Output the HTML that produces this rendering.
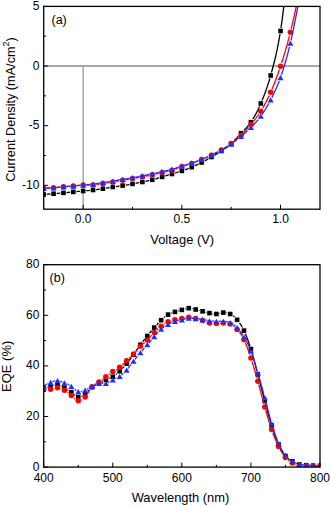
<!DOCTYPE html>
<html><head><meta charset="utf-8"><style>
html,body{margin:0;padding:0;background:#fff;width:331px;height:506px;overflow:hidden}
svg{display:block;font-family:"Liberation Sans",sans-serif}
</style></head><body>
<svg width="331" height="506" viewBox="0 0 331 506">
<defs><clipPath id="ca"><rect x="43.7" y="6.4" width="276.3" height="202.79999999999998"/></clipPath><clipPath id="cb"><rect x="43.7" y="264.7" width="276.3" height="202.40000000000003"/></clipPath></defs>
<defs><mask id="m0" maskUnits="userSpaceOnUse" x="0" y="0" width="331" height="506"><rect x="0" y="0" width="331" height="506" fill="#fff"/><rect x="41.40" y="192.20" width="4.6" height="4.6" fill="#000" stroke="#000" stroke-width="1.6" stroke-linejoin="round"/><rect x="51.27" y="191.40" width="4.6" height="4.6" fill="#000" stroke="#000" stroke-width="1.6" stroke-linejoin="round"/><rect x="61.14" y="190.60" width="4.6" height="4.6" fill="#000" stroke="#000" stroke-width="1.6" stroke-linejoin="round"/><rect x="71.00" y="189.60" width="4.6" height="4.6" fill="#000" stroke="#000" stroke-width="1.6" stroke-linejoin="round"/><rect x="80.87" y="188.70" width="4.6" height="4.6" fill="#000" stroke="#000" stroke-width="1.6" stroke-linejoin="round"/><rect x="90.74" y="187.70" width="4.6" height="4.6" fill="#000" stroke="#000" stroke-width="1.6" stroke-linejoin="round"/><rect x="100.61" y="186.40" width="4.6" height="4.6" fill="#000" stroke="#000" stroke-width="1.6" stroke-linejoin="round"/><rect x="110.48" y="184.70" width="4.6" height="4.6" fill="#000" stroke="#000" stroke-width="1.6" stroke-linejoin="round"/><rect x="120.34" y="183.30" width="4.6" height="4.6" fill="#000" stroke="#000" stroke-width="1.6" stroke-linejoin="round"/><rect x="130.21" y="181.60" width="4.6" height="4.6" fill="#000" stroke="#000" stroke-width="1.6" stroke-linejoin="round"/><rect x="140.08" y="179.70" width="4.6" height="4.6" fill="#000" stroke="#000" stroke-width="1.6" stroke-linejoin="round"/><rect x="149.95" y="177.50" width="4.6" height="4.6" fill="#000" stroke="#000" stroke-width="1.6" stroke-linejoin="round"/><rect x="159.81" y="174.60" width="4.6" height="4.6" fill="#000" stroke="#000" stroke-width="1.6" stroke-linejoin="round"/><rect x="169.68" y="171.70" width="4.6" height="4.6" fill="#000" stroke="#000" stroke-width="1.6" stroke-linejoin="round"/><rect x="179.55" y="168.60" width="4.6" height="4.6" fill="#000" stroke="#000" stroke-width="1.6" stroke-linejoin="round"/><rect x="189.42" y="164.90" width="4.6" height="4.6" fill="#000" stroke="#000" stroke-width="1.6" stroke-linejoin="round"/><rect x="199.29" y="160.20" width="4.6" height="4.6" fill="#000" stroke="#000" stroke-width="1.6" stroke-linejoin="round"/><rect x="209.15" y="154.70" width="4.6" height="4.6" fill="#000" stroke="#000" stroke-width="1.6" stroke-linejoin="round"/><rect x="219.02" y="148.70" width="4.6" height="4.6" fill="#000" stroke="#000" stroke-width="1.6" stroke-linejoin="round"/><rect x="228.89" y="141.40" width="4.6" height="4.6" fill="#000" stroke="#000" stroke-width="1.6" stroke-linejoin="round"/><rect x="238.76" y="130.90" width="4.6" height="4.6" fill="#000" stroke="#000" stroke-width="1.6" stroke-linejoin="round"/><rect x="248.63" y="119.90" width="4.6" height="4.6" fill="#000" stroke="#000" stroke-width="1.6" stroke-linejoin="round"/><rect x="258.49" y="101.20" width="4.6" height="4.6" fill="#000" stroke="#000" stroke-width="1.6" stroke-linejoin="round"/><rect x="268.36" y="73.20" width="4.6" height="4.6" fill="#000" stroke="#000" stroke-width="1.6" stroke-linejoin="round"/><rect x="278.23" y="28.70" width="4.6" height="4.6" fill="#000" stroke="#000" stroke-width="1.6" stroke-linejoin="round"/></mask><mask id="m1" maskUnits="userSpaceOnUse" x="0" y="0" width="331" height="506"><rect x="0" y="0" width="331" height="506" fill="#fff"/><circle cx="43.70" cy="188.20" r="2.75" fill="#000" stroke="#000" stroke-width="1.6" stroke-linejoin="round"/><circle cx="53.57" cy="187.70" r="2.75" fill="#000" stroke="#000" stroke-width="1.6" stroke-linejoin="round"/><circle cx="63.44" cy="186.80" r="2.75" fill="#000" stroke="#000" stroke-width="1.6" stroke-linejoin="round"/><circle cx="73.30" cy="185.90" r="2.75" fill="#000" stroke="#000" stroke-width="1.6" stroke-linejoin="round"/><circle cx="83.17" cy="185.00" r="2.75" fill="#000" stroke="#000" stroke-width="1.6" stroke-linejoin="round"/><circle cx="93.04" cy="185.00" r="2.75" fill="#000" stroke="#000" stroke-width="1.6" stroke-linejoin="round"/><circle cx="102.91" cy="183.60" r="2.75" fill="#000" stroke="#000" stroke-width="1.6" stroke-linejoin="round"/><circle cx="112.78" cy="182.00" r="2.75" fill="#000" stroke="#000" stroke-width="1.6" stroke-linejoin="round"/><circle cx="122.64" cy="180.30" r="2.75" fill="#000" stroke="#000" stroke-width="1.6" stroke-linejoin="round"/><circle cx="132.51" cy="178.60" r="2.75" fill="#000" stroke="#000" stroke-width="1.6" stroke-linejoin="round"/><circle cx="142.38" cy="176.80" r="2.75" fill="#000" stroke="#000" stroke-width="1.6" stroke-linejoin="round"/><circle cx="152.25" cy="174.80" r="2.75" fill="#000" stroke="#000" stroke-width="1.6" stroke-linejoin="round"/><circle cx="162.11" cy="172.60" r="2.75" fill="#000" stroke="#000" stroke-width="1.6" stroke-linejoin="round"/><circle cx="171.98" cy="170.20" r="2.75" fill="#000" stroke="#000" stroke-width="1.6" stroke-linejoin="round"/><circle cx="181.85" cy="166.50" r="2.75" fill="#000" stroke="#000" stroke-width="1.6" stroke-linejoin="round"/><circle cx="191.72" cy="163.40" r="2.75" fill="#000" stroke="#000" stroke-width="1.6" stroke-linejoin="round"/><circle cx="201.59" cy="159.60" r="2.75" fill="#000" stroke="#000" stroke-width="1.6" stroke-linejoin="round"/><circle cx="211.45" cy="155.20" r="2.75" fill="#000" stroke="#000" stroke-width="1.6" stroke-linejoin="round"/><circle cx="221.32" cy="150.00" r="2.75" fill="#000" stroke="#000" stroke-width="1.6" stroke-linejoin="round"/><circle cx="231.19" cy="143.60" r="2.75" fill="#000" stroke="#000" stroke-width="1.6" stroke-linejoin="round"/><circle cx="241.06" cy="135.30" r="2.75" fill="#000" stroke="#000" stroke-width="1.6" stroke-linejoin="round"/><circle cx="250.93" cy="124.40" r="2.75" fill="#000" stroke="#000" stroke-width="1.6" stroke-linejoin="round"/><circle cx="260.79" cy="111.30" r="2.75" fill="#000" stroke="#000" stroke-width="1.6" stroke-linejoin="round"/><circle cx="270.66" cy="92.30" r="2.75" fill="#000" stroke="#000" stroke-width="1.6" stroke-linejoin="round"/><circle cx="280.53" cy="66.30" r="2.75" fill="#000" stroke="#000" stroke-width="1.6" stroke-linejoin="round"/><circle cx="290.40" cy="32.20" r="2.75" fill="#000" stroke="#000" stroke-width="1.6" stroke-linejoin="round"/></mask><mask id="m2" maskUnits="userSpaceOnUse" x="0" y="0" width="331" height="506"><rect x="0" y="0" width="331" height="506" fill="#fff"/><polygon points="43.70,185.66 40.65,190.94 46.75,190.94" fill="#000" stroke="#000" stroke-width="1.6" stroke-linejoin="round"/><polygon points="53.57,185.16 50.52,190.44 56.62,190.44" fill="#000" stroke="#000" stroke-width="1.6" stroke-linejoin="round"/><polygon points="63.44,184.26 60.39,189.54 66.49,189.54" fill="#000" stroke="#000" stroke-width="1.6" stroke-linejoin="round"/><polygon points="73.30,183.36 70.25,188.64 76.35,188.64" fill="#000" stroke="#000" stroke-width="1.6" stroke-linejoin="round"/><polygon points="83.17,182.46 80.12,187.74 86.22,187.74" fill="#000" stroke="#000" stroke-width="1.6" stroke-linejoin="round"/><polygon points="93.04,181.46 89.99,186.74 96.09,186.74" fill="#000" stroke="#000" stroke-width="1.6" stroke-linejoin="round"/><polygon points="102.91,180.06 99.86,185.34 105.96,185.34" fill="#000" stroke="#000" stroke-width="1.6" stroke-linejoin="round"/><polygon points="112.78,178.46 109.73,183.74 115.83,183.74" fill="#000" stroke="#000" stroke-width="1.6" stroke-linejoin="round"/><polygon points="122.64,176.76 119.59,182.04 125.69,182.04" fill="#000" stroke="#000" stroke-width="1.6" stroke-linejoin="round"/><polygon points="132.51,175.06 129.46,180.34 135.56,180.34" fill="#000" stroke="#000" stroke-width="1.6" stroke-linejoin="round"/><polygon points="142.38,173.26 139.33,178.54 145.43,178.54" fill="#000" stroke="#000" stroke-width="1.6" stroke-linejoin="round"/><polygon points="152.25,171.26 149.20,176.54 155.30,176.54" fill="#000" stroke="#000" stroke-width="1.6" stroke-linejoin="round"/><polygon points="162.11,169.06 159.06,174.34 165.16,174.34" fill="#000" stroke="#000" stroke-width="1.6" stroke-linejoin="round"/><polygon points="171.98,166.66 168.93,171.94 175.03,171.94" fill="#000" stroke="#000" stroke-width="1.6" stroke-linejoin="round"/><polygon points="181.85,163.46 178.80,168.74 184.90,168.74" fill="#000" stroke="#000" stroke-width="1.6" stroke-linejoin="round"/><polygon points="191.72,160.36 188.67,165.64 194.77,165.64" fill="#000" stroke="#000" stroke-width="1.6" stroke-linejoin="round"/><polygon points="201.59,156.76 198.54,162.04 204.64,162.04" fill="#000" stroke="#000" stroke-width="1.6" stroke-linejoin="round"/><polygon points="211.45,152.36 208.40,157.64 214.50,157.64" fill="#000" stroke="#000" stroke-width="1.6" stroke-linejoin="round"/><polygon points="221.32,147.36 218.27,152.64 224.37,152.64" fill="#000" stroke="#000" stroke-width="1.6" stroke-linejoin="round"/><polygon points="231.19,141.36 228.14,146.64 234.24,146.64" fill="#000" stroke="#000" stroke-width="1.6" stroke-linejoin="round"/><polygon points="241.06,133.66 238.01,138.94 244.11,138.94" fill="#000" stroke="#000" stroke-width="1.6" stroke-linejoin="round"/><polygon points="250.93,124.76 247.88,130.04 253.98,130.04" fill="#000" stroke="#000" stroke-width="1.6" stroke-linejoin="round"/><polygon points="260.79,113.56 257.74,118.84 263.84,118.84" fill="#000" stroke="#000" stroke-width="1.6" stroke-linejoin="round"/><polygon points="270.66,97.26 267.61,102.54 273.71,102.54" fill="#000" stroke="#000" stroke-width="1.6" stroke-linejoin="round"/><polygon points="280.53,74.86 277.48,80.14 283.58,80.14" fill="#000" stroke="#000" stroke-width="1.6" stroke-linejoin="round"/><polygon points="290.40,40.56 287.35,45.84 293.45,45.84" fill="#000" stroke="#000" stroke-width="1.6" stroke-linejoin="round"/></mask><mask id="m3" maskUnits="userSpaceOnUse" x="0" y="0" width="331" height="506"><rect x="0" y="0" width="331" height="506" fill="#fff"/><rect x="41.40" y="385.20" width="4.6" height="4.6" fill="#000" stroke="#000" stroke-width="1.6" stroke-linejoin="round"/><rect x="48.31" y="384.30" width="4.6" height="4.6" fill="#000" stroke="#000" stroke-width="1.6" stroke-linejoin="round"/><rect x="55.22" y="382.40" width="4.6" height="4.6" fill="#000" stroke="#000" stroke-width="1.6" stroke-linejoin="round"/><rect x="62.12" y="385.50" width="4.6" height="4.6" fill="#000" stroke="#000" stroke-width="1.6" stroke-linejoin="round"/><rect x="69.03" y="389.90" width="4.6" height="4.6" fill="#000" stroke="#000" stroke-width="1.6" stroke-linejoin="round"/><rect x="75.94" y="394.70" width="4.6" height="4.6" fill="#000" stroke="#000" stroke-width="1.6" stroke-linejoin="round"/><rect x="82.85" y="391.70" width="4.6" height="4.6" fill="#000" stroke="#000" stroke-width="1.6" stroke-linejoin="round"/><rect x="89.75" y="384.90" width="4.6" height="4.6" fill="#000" stroke="#000" stroke-width="1.6" stroke-linejoin="round"/><rect x="96.66" y="381.10" width="4.6" height="4.6" fill="#000" stroke="#000" stroke-width="1.6" stroke-linejoin="round"/><rect x="103.57" y="377.50" width="4.6" height="4.6" fill="#000" stroke="#000" stroke-width="1.6" stroke-linejoin="round"/><rect x="110.48" y="374.40" width="4.6" height="4.6" fill="#000" stroke="#000" stroke-width="1.6" stroke-linejoin="round"/><rect x="117.38" y="369.00" width="4.6" height="4.6" fill="#000" stroke="#000" stroke-width="1.6" stroke-linejoin="round"/><rect x="124.29" y="361.30" width="4.6" height="4.6" fill="#000" stroke="#000" stroke-width="1.6" stroke-linejoin="round"/><rect x="131.20" y="352.40" width="4.6" height="4.6" fill="#000" stroke="#000" stroke-width="1.6" stroke-linejoin="round"/><rect x="138.10" y="342.40" width="4.6" height="4.6" fill="#000" stroke="#000" stroke-width="1.6" stroke-linejoin="round"/><rect x="145.01" y="333.70" width="4.6" height="4.6" fill="#000" stroke="#000" stroke-width="1.6" stroke-linejoin="round"/><rect x="151.92" y="325.30" width="4.6" height="4.6" fill="#000" stroke="#000" stroke-width="1.6" stroke-linejoin="round"/><rect x="158.83" y="317.90" width="4.6" height="4.6" fill="#000" stroke="#000" stroke-width="1.6" stroke-linejoin="round"/><rect x="165.74" y="312.30" width="4.6" height="4.6" fill="#000" stroke="#000" stroke-width="1.6" stroke-linejoin="round"/><rect x="172.64" y="309.60" width="4.6" height="4.6" fill="#000" stroke="#000" stroke-width="1.6" stroke-linejoin="round"/><rect x="179.55" y="307.60" width="4.6" height="4.6" fill="#000" stroke="#000" stroke-width="1.6" stroke-linejoin="round"/><rect x="186.46" y="305.90" width="4.6" height="4.6" fill="#000" stroke="#000" stroke-width="1.6" stroke-linejoin="round"/><rect x="193.37" y="307.20" width="4.6" height="4.6" fill="#000" stroke="#000" stroke-width="1.6" stroke-linejoin="round"/><rect x="200.27" y="309.00" width="4.6" height="4.6" fill="#000" stroke="#000" stroke-width="1.6" stroke-linejoin="round"/><rect x="207.18" y="310.80" width="4.6" height="4.6" fill="#000" stroke="#000" stroke-width="1.6" stroke-linejoin="round"/><rect x="214.09" y="311.70" width="4.6" height="4.6" fill="#000" stroke="#000" stroke-width="1.6" stroke-linejoin="round"/><rect x="221.00" y="310.30" width="4.6" height="4.6" fill="#000" stroke="#000" stroke-width="1.6" stroke-linejoin="round"/><rect x="227.90" y="311.70" width="4.6" height="4.6" fill="#000" stroke="#000" stroke-width="1.6" stroke-linejoin="round"/><rect x="234.81" y="317.50" width="4.6" height="4.6" fill="#000" stroke="#000" stroke-width="1.6" stroke-linejoin="round"/><rect x="241.72" y="328.30" width="4.6" height="4.6" fill="#000" stroke="#000" stroke-width="1.6" stroke-linejoin="round"/><rect x="248.62" y="346.70" width="4.6" height="4.6" fill="#000" stroke="#000" stroke-width="1.6" stroke-linejoin="round"/><rect x="255.53" y="372.20" width="4.6" height="4.6" fill="#000" stroke="#000" stroke-width="1.6" stroke-linejoin="round"/><rect x="262.44" y="398.70" width="4.6" height="4.6" fill="#000" stroke="#000" stroke-width="1.6" stroke-linejoin="round"/><rect x="269.35" y="423.20" width="4.6" height="4.6" fill="#000" stroke="#000" stroke-width="1.6" stroke-linejoin="round"/><rect x="276.25" y="442.20" width="4.6" height="4.6" fill="#000" stroke="#000" stroke-width="1.6" stroke-linejoin="round"/><rect x="283.16" y="453.70" width="4.6" height="4.6" fill="#000" stroke="#000" stroke-width="1.6" stroke-linejoin="round"/><rect x="290.07" y="459.00" width="4.6" height="4.6" fill="#000" stroke="#000" stroke-width="1.6" stroke-linejoin="round"/><rect x="296.98" y="462.20" width="4.6" height="4.6" fill="#000" stroke="#000" stroke-width="1.6" stroke-linejoin="round"/><rect x="303.88" y="463.00" width="4.6" height="4.6" fill="#000" stroke="#000" stroke-width="1.6" stroke-linejoin="round"/><rect x="310.79" y="463.30" width="4.6" height="4.6" fill="#000" stroke="#000" stroke-width="1.6" stroke-linejoin="round"/><rect x="317.70" y="463.50" width="4.6" height="4.6" fill="#000" stroke="#000" stroke-width="1.6" stroke-linejoin="round"/></mask><mask id="m4" maskUnits="userSpaceOnUse" x="0" y="0" width="331" height="506"><rect x="0" y="0" width="331" height="506" fill="#fff"/><circle cx="43.70" cy="389.30" r="2.75" fill="#000" stroke="#000" stroke-width="1.6" stroke-linejoin="round"/><circle cx="50.61" cy="389.30" r="2.75" fill="#000" stroke="#000" stroke-width="1.6" stroke-linejoin="round"/><circle cx="57.52" cy="387.70" r="2.75" fill="#000" stroke="#000" stroke-width="1.6" stroke-linejoin="round"/><circle cx="64.42" cy="390.30" r="2.75" fill="#000" stroke="#000" stroke-width="1.6" stroke-linejoin="round"/><circle cx="71.33" cy="395.40" r="2.75" fill="#000" stroke="#000" stroke-width="1.6" stroke-linejoin="round"/><circle cx="78.24" cy="400.80" r="2.75" fill="#000" stroke="#000" stroke-width="1.6" stroke-linejoin="round"/><circle cx="85.15" cy="397.00" r="2.75" fill="#000" stroke="#000" stroke-width="1.6" stroke-linejoin="round"/><circle cx="92.05" cy="386.80" r="2.75" fill="#000" stroke="#000" stroke-width="1.6" stroke-linejoin="round"/><circle cx="98.96" cy="382.00" r="2.75" fill="#000" stroke="#000" stroke-width="1.6" stroke-linejoin="round"/><circle cx="105.87" cy="376.80" r="2.75" fill="#000" stroke="#000" stroke-width="1.6" stroke-linejoin="round"/><circle cx="112.78" cy="371.50" r="2.75" fill="#000" stroke="#000" stroke-width="1.6" stroke-linejoin="round"/><circle cx="119.68" cy="367.30" r="2.75" fill="#000" stroke="#000" stroke-width="1.6" stroke-linejoin="round"/><circle cx="126.59" cy="360.70" r="2.75" fill="#000" stroke="#000" stroke-width="1.6" stroke-linejoin="round"/><circle cx="133.50" cy="354.00" r="2.75" fill="#000" stroke="#000" stroke-width="1.6" stroke-linejoin="round"/><circle cx="140.41" cy="346.30" r="2.75" fill="#000" stroke="#000" stroke-width="1.6" stroke-linejoin="round"/><circle cx="147.31" cy="340.00" r="2.75" fill="#000" stroke="#000" stroke-width="1.6" stroke-linejoin="round"/><circle cx="154.22" cy="332.40" r="2.75" fill="#000" stroke="#000" stroke-width="1.6" stroke-linejoin="round"/><circle cx="161.13" cy="326.20" r="2.75" fill="#000" stroke="#000" stroke-width="1.6" stroke-linejoin="round"/><circle cx="168.04" cy="321.80" r="2.75" fill="#000" stroke="#000" stroke-width="1.6" stroke-linejoin="round"/><circle cx="174.94" cy="319.80" r="2.75" fill="#000" stroke="#000" stroke-width="1.6" stroke-linejoin="round"/><circle cx="181.85" cy="318.60" r="2.75" fill="#000" stroke="#000" stroke-width="1.6" stroke-linejoin="round"/><circle cx="188.76" cy="317.30" r="2.75" fill="#000" stroke="#000" stroke-width="1.6" stroke-linejoin="round"/><circle cx="195.67" cy="318.40" r="2.75" fill="#000" stroke="#000" stroke-width="1.6" stroke-linejoin="round"/><circle cx="202.57" cy="320.40" r="2.75" fill="#000" stroke="#000" stroke-width="1.6" stroke-linejoin="round"/><circle cx="209.48" cy="323.10" r="2.75" fill="#000" stroke="#000" stroke-width="1.6" stroke-linejoin="round"/><circle cx="216.39" cy="323.60" r="2.75" fill="#000" stroke="#000" stroke-width="1.6" stroke-linejoin="round"/><circle cx="223.30" cy="323.10" r="2.75" fill="#000" stroke="#000" stroke-width="1.6" stroke-linejoin="round"/><circle cx="230.20" cy="324.00" r="2.75" fill="#000" stroke="#000" stroke-width="1.6" stroke-linejoin="round"/><circle cx="237.11" cy="329.40" r="2.75" fill="#000" stroke="#000" stroke-width="1.6" stroke-linejoin="round"/><circle cx="244.02" cy="339.70" r="2.75" fill="#000" stroke="#000" stroke-width="1.6" stroke-linejoin="round"/><circle cx="250.93" cy="358.10" r="2.75" fill="#000" stroke="#000" stroke-width="1.6" stroke-linejoin="round"/><circle cx="257.83" cy="381.30" r="2.75" fill="#000" stroke="#000" stroke-width="1.6" stroke-linejoin="round"/><circle cx="264.74" cy="407.00" r="2.75" fill="#000" stroke="#000" stroke-width="1.6" stroke-linejoin="round"/><circle cx="271.65" cy="429.60" r="2.75" fill="#000" stroke="#000" stroke-width="1.6" stroke-linejoin="round"/><circle cx="278.56" cy="446.60" r="2.75" fill="#000" stroke="#000" stroke-width="1.6" stroke-linejoin="round"/><circle cx="285.46" cy="457.40" r="2.75" fill="#000" stroke="#000" stroke-width="1.6" stroke-linejoin="round"/><circle cx="292.37" cy="462.90" r="2.75" fill="#000" stroke="#000" stroke-width="1.6" stroke-linejoin="round"/><circle cx="299.28" cy="465.50" r="2.75" fill="#000" stroke="#000" stroke-width="1.6" stroke-linejoin="round"/><circle cx="306.19" cy="466.00" r="2.75" fill="#000" stroke="#000" stroke-width="1.6" stroke-linejoin="round"/><circle cx="313.09" cy="466.20" r="2.75" fill="#000" stroke="#000" stroke-width="1.6" stroke-linejoin="round"/><circle cx="320.00" cy="466.30" r="2.75" fill="#000" stroke="#000" stroke-width="1.6" stroke-linejoin="round"/></mask><mask id="m5" maskUnits="userSpaceOnUse" x="0" y="0" width="331" height="506"><rect x="0" y="0" width="331" height="506" fill="#fff"/><polygon points="43.70,383.26 40.65,388.54 46.75,388.54" fill="#000" stroke="#000" stroke-width="1.6" stroke-linejoin="round"/><polygon points="50.61,379.76 47.56,385.04 53.66,385.04" fill="#000" stroke="#000" stroke-width="1.6" stroke-linejoin="round"/><polygon points="57.52,378.06 54.47,383.34 60.56,383.34" fill="#000" stroke="#000" stroke-width="1.6" stroke-linejoin="round"/><polygon points="64.42,380.36 61.37,385.64 67.47,385.64" fill="#000" stroke="#000" stroke-width="1.6" stroke-linejoin="round"/><polygon points="71.33,383.66 68.28,388.94 74.38,388.94" fill="#000" stroke="#000" stroke-width="1.6" stroke-linejoin="round"/><polygon points="78.24,388.96 75.19,394.24 81.29,394.24" fill="#000" stroke="#000" stroke-width="1.6" stroke-linejoin="round"/><polygon points="85.15,387.56 82.10,392.84 88.20,392.84" fill="#000" stroke="#000" stroke-width="1.6" stroke-linejoin="round"/><polygon points="92.05,383.76 89.00,389.04 95.10,389.04" fill="#000" stroke="#000" stroke-width="1.6" stroke-linejoin="round"/><polygon points="98.96,380.46 95.91,385.74 102.01,385.74" fill="#000" stroke="#000" stroke-width="1.6" stroke-linejoin="round"/><polygon points="105.87,380.76 102.82,386.04 108.92,386.04" fill="#000" stroke="#000" stroke-width="1.6" stroke-linejoin="round"/><polygon points="112.78,377.16 109.73,382.44 115.83,382.44" fill="#000" stroke="#000" stroke-width="1.6" stroke-linejoin="round"/><polygon points="119.68,373.66 116.63,378.94 122.73,378.94" fill="#000" stroke="#000" stroke-width="1.6" stroke-linejoin="round"/><polygon points="126.59,367.36 123.54,372.64 129.64,372.64" fill="#000" stroke="#000" stroke-width="1.6" stroke-linejoin="round"/><polygon points="133.50,358.46 130.45,363.74 136.55,363.74" fill="#000" stroke="#000" stroke-width="1.6" stroke-linejoin="round"/><polygon points="140.41,350.06 137.35,355.34 143.46,355.34" fill="#000" stroke="#000" stroke-width="1.6" stroke-linejoin="round"/><polygon points="147.31,342.06 144.26,347.34 150.36,347.34" fill="#000" stroke="#000" stroke-width="1.6" stroke-linejoin="round"/><polygon points="154.22,333.96 151.17,339.24 157.27,339.24" fill="#000" stroke="#000" stroke-width="1.6" stroke-linejoin="round"/><polygon points="161.13,326.56 158.08,331.84 164.18,331.84" fill="#000" stroke="#000" stroke-width="1.6" stroke-linejoin="round"/><polygon points="168.04,321.76 164.99,327.04 171.09,327.04" fill="#000" stroke="#000" stroke-width="1.6" stroke-linejoin="round"/><polygon points="174.94,318.66 171.89,323.94 177.99,323.94" fill="#000" stroke="#000" stroke-width="1.6" stroke-linejoin="round"/><polygon points="181.85,317.16 178.80,322.44 184.90,322.44" fill="#000" stroke="#000" stroke-width="1.6" stroke-linejoin="round"/><polygon points="188.76,315.56 185.71,320.84 191.81,320.84" fill="#000" stroke="#000" stroke-width="1.6" stroke-linejoin="round"/><polygon points="195.67,315.96 192.62,321.24 198.72,321.24" fill="#000" stroke="#000" stroke-width="1.6" stroke-linejoin="round"/><polygon points="202.57,316.86 199.52,322.14 205.62,322.14" fill="#000" stroke="#000" stroke-width="1.6" stroke-linejoin="round"/><polygon points="209.48,318.26 206.43,323.54 212.53,323.54" fill="#000" stroke="#000" stroke-width="1.6" stroke-linejoin="round"/><polygon points="216.39,318.66 213.34,323.94 219.44,323.94" fill="#000" stroke="#000" stroke-width="1.6" stroke-linejoin="round"/><polygon points="223.30,318.66 220.25,323.94 226.35,323.94" fill="#000" stroke="#000" stroke-width="1.6" stroke-linejoin="round"/><polygon points="230.20,320.06 227.15,325.34 233.25,325.34" fill="#000" stroke="#000" stroke-width="1.6" stroke-linejoin="round"/><polygon points="237.11,324.96 234.06,330.24 240.16,330.24" fill="#000" stroke="#000" stroke-width="1.6" stroke-linejoin="round"/><polygon points="244.02,334.36 240.97,339.64 247.07,339.64" fill="#000" stroke="#000" stroke-width="1.6" stroke-linejoin="round"/><polygon points="250.93,348.16 247.88,353.44 253.98,353.44" fill="#000" stroke="#000" stroke-width="1.6" stroke-linejoin="round"/><polygon points="257.83,370.46 254.78,375.74 260.88,375.74" fill="#000" stroke="#000" stroke-width="1.6" stroke-linejoin="round"/><polygon points="264.74,394.86 261.69,400.14 267.79,400.14" fill="#000" stroke="#000" stroke-width="1.6" stroke-linejoin="round"/><polygon points="271.65,421.06 268.60,426.34 274.70,426.34" fill="#000" stroke="#000" stroke-width="1.6" stroke-linejoin="round"/><polygon points="278.56,440.66 275.50,445.94 281.61,445.94" fill="#000" stroke="#000" stroke-width="1.6" stroke-linejoin="round"/><polygon points="285.46,452.66 282.41,457.94 288.51,457.94" fill="#000" stroke="#000" stroke-width="1.6" stroke-linejoin="round"/><polygon points="292.37,458.76 289.32,464.04 295.42,464.04" fill="#000" stroke="#000" stroke-width="1.6" stroke-linejoin="round"/><polygon points="299.28,461.76 296.23,467.04 302.33,467.04" fill="#000" stroke="#000" stroke-width="1.6" stroke-linejoin="round"/><polygon points="306.19,462.36 303.13,467.64 309.24,467.64" fill="#000" stroke="#000" stroke-width="1.6" stroke-linejoin="round"/><polygon points="313.09,462.86 310.04,468.14 316.14,468.14" fill="#000" stroke="#000" stroke-width="1.6" stroke-linejoin="round"/><polygon points="320.00,462.96 316.95,468.24 323.05,468.24" fill="#000" stroke="#000" stroke-width="1.6" stroke-linejoin="round"/></mask></defs>
<g clip-path="url(#ca)">
<line x1="43.7" y1="66.05" x2="320.0" y2="66.05" stroke="#8a8a8a" stroke-width="1.5"/>
<line x1="83.17" y1="66.05" x2="83.17" y2="209.2" stroke="#a8a8a8" stroke-width="1.5"/>
<g mask="url(#m0)"><polyline points="43.70,194.50 44.77,194.41 46.26,194.29 48.02,194.15 49.91,194.00 51.81,193.84 53.57,193.70 55.21,193.57 56.86,193.44 58.50,193.31 60.15,193.18 61.79,193.04 63.44,192.90 65.08,192.74 66.73,192.58 68.37,192.41 70.01,192.23 71.66,192.06 73.30,191.90 74.95,191.75 76.59,191.60 78.24,191.45 79.88,191.30 81.53,191.15 83.17,191.00 84.82,190.84 86.46,190.69 88.11,190.53 89.75,190.36 91.39,190.19 93.04,190.00 94.68,189.81 96.33,189.60 97.97,189.39 99.62,189.17 101.26,188.94 102.91,188.70 104.55,188.44 106.20,188.15 107.84,187.86 109.49,187.56 111.13,187.27 112.78,187.00 114.42,186.75 116.06,186.52 117.71,186.30 119.35,186.08 121.00,185.85 122.64,185.60 124.29,185.34 125.93,185.06 127.58,184.78 129.22,184.49 130.87,184.20 132.51,183.90 134.16,183.60 135.80,183.29 137.44,182.98 139.09,182.66 140.73,182.34 142.38,182.00 144.02,181.66 145.67,181.31 147.31,180.96 148.96,180.60 150.60,180.21 152.25,179.80 153.89,179.36 155.54,178.89 157.18,178.39 158.83,177.89 160.47,177.39 162.11,176.90 163.76,176.42 165.40,175.94 167.05,175.46 168.69,174.98 170.34,174.49 171.98,174.00 173.63,173.50 175.27,173.00 176.92,172.50 178.56,171.99 180.21,171.45 181.85,170.90 183.49,170.33 185.14,169.75 186.78,169.15 188.43,168.53 190.07,167.88 191.72,167.20 193.36,166.48 195.01,165.74 196.65,164.96 198.30,164.16 199.94,163.34 201.59,162.50 203.23,161.64 204.88,160.74 206.52,159.83 208.16,158.90 209.81,157.95 211.45,157.00 213.10,156.04 214.74,155.09 216.39,154.11 218.03,153.11 219.68,152.08 221.32,151.00 222.97,149.90 224.61,148.78 226.26,147.63 227.90,146.42 229.54,145.12 231.19,143.70 232.83,142.14 234.48,140.46 236.12,138.68 237.77,136.86 239.41,135.02 241.06,133.20 242.70,131.48 244.35,129.86 245.99,128.21 247.64,126.46 249.28,124.48 250.93,122.20 252.57,119.64 254.21,116.88 255.86,113.91 257.50,110.71 259.15,107.24 260.79,103.50 262.44,99.56 264.08,95.47 265.73,91.11 267.37,86.40 269.02,81.23 270.66,75.50 272.31,69.46 273.95,63.24 275.59,56.56 277.24,49.15 278.88,40.72 280.53,31.00 282.29,18.67 284.18,3.70 286.08,-12.28 287.84,-27.65 289.32,-40.77 290.40,-50.00" fill="none" stroke="#000000" stroke-width="1.3" stroke-linejoin="round"/></g><rect x="41.40" y="192.20" width="4.6" height="4.6" fill="#000000"/><rect x="51.27" y="191.40" width="4.6" height="4.6" fill="#000000"/><rect x="61.14" y="190.60" width="4.6" height="4.6" fill="#000000"/><rect x="71.00" y="189.60" width="4.6" height="4.6" fill="#000000"/><rect x="80.87" y="188.70" width="4.6" height="4.6" fill="#000000"/><rect x="90.74" y="187.70" width="4.6" height="4.6" fill="#000000"/><rect x="100.61" y="186.40" width="4.6" height="4.6" fill="#000000"/><rect x="110.48" y="184.70" width="4.6" height="4.6" fill="#000000"/><rect x="120.34" y="183.30" width="4.6" height="4.6" fill="#000000"/><rect x="130.21" y="181.60" width="4.6" height="4.6" fill="#000000"/><rect x="140.08" y="179.70" width="4.6" height="4.6" fill="#000000"/><rect x="149.95" y="177.50" width="4.6" height="4.6" fill="#000000"/><rect x="159.81" y="174.60" width="4.6" height="4.6" fill="#000000"/><rect x="169.68" y="171.70" width="4.6" height="4.6" fill="#000000"/><rect x="179.55" y="168.60" width="4.6" height="4.6" fill="#000000"/><rect x="189.42" y="164.90" width="4.6" height="4.6" fill="#000000"/><rect x="199.29" y="160.20" width="4.6" height="4.6" fill="#000000"/><rect x="209.15" y="154.70" width="4.6" height="4.6" fill="#000000"/><rect x="219.02" y="148.70" width="4.6" height="4.6" fill="#000000"/><rect x="228.89" y="141.40" width="4.6" height="4.6" fill="#000000"/><rect x="238.76" y="130.90" width="4.6" height="4.6" fill="#000000"/><rect x="248.63" y="119.90" width="4.6" height="4.6" fill="#000000"/><rect x="258.49" y="101.20" width="4.6" height="4.6" fill="#000000"/><rect x="268.36" y="73.20" width="4.6" height="4.6" fill="#000000"/><rect x="278.23" y="28.70" width="4.6" height="4.6" fill="#000000"/>
<g mask="url(#m1)"><polyline points="43.70,188.20 44.77,188.15 46.26,188.09 48.02,188.01 49.91,187.91 51.81,187.81 53.57,187.70 55.21,187.57 56.86,187.43 58.50,187.27 60.15,187.11 61.79,186.95 63.44,186.80 65.08,186.65 66.73,186.50 68.37,186.35 70.01,186.20 71.66,186.05 73.30,185.90 74.95,185.74 76.59,185.57 78.24,185.39 79.88,185.23 81.53,185.10 83.17,185.00 84.82,184.96 86.46,184.99 88.11,185.03 89.75,185.07 91.39,185.07 93.04,185.00 94.68,184.85 96.33,184.64 97.97,184.40 99.62,184.13 101.26,183.86 102.91,183.60 104.55,183.35 106.20,183.09 107.84,182.82 109.49,182.55 111.13,182.27 112.78,182.00 114.42,181.72 116.06,181.44 117.71,181.16 119.35,180.87 121.00,180.58 122.64,180.30 124.29,180.02 125.93,179.74 127.58,179.46 129.22,179.17 130.87,178.89 132.51,178.60 134.16,178.31 135.80,178.01 137.44,177.72 139.09,177.42 140.73,177.11 142.38,176.80 144.02,176.48 145.67,176.16 147.31,175.83 148.96,175.49 150.60,175.15 152.25,174.80 153.89,174.45 155.54,174.09 157.18,173.72 158.83,173.36 160.47,172.98 162.11,172.60 163.76,172.23 165.40,171.86 167.05,171.49 168.69,171.10 170.34,170.68 171.98,170.20 173.63,169.65 175.27,169.04 176.92,168.39 178.56,167.74 180.21,167.10 181.85,166.50 183.49,165.96 185.14,165.45 186.78,164.96 188.43,164.46 190.07,163.95 191.72,163.40 193.36,162.81 195.01,162.21 196.65,161.58 198.30,160.94 199.94,160.28 201.59,159.60 203.23,158.91 204.88,158.21 206.52,157.49 208.16,156.75 209.81,155.99 211.45,155.20 213.10,154.39 214.74,153.57 216.39,152.72 218.03,151.85 219.68,150.95 221.32,150.00 222.97,149.02 224.61,148.03 226.26,146.99 227.90,145.92 229.54,144.79 231.19,143.60 232.83,142.36 234.48,141.07 236.12,139.73 237.77,138.33 239.41,136.86 241.06,135.30 242.70,133.66 244.35,131.94 245.99,130.15 247.64,128.29 249.28,126.37 250.93,124.40 252.57,122.41 254.21,120.41 255.86,118.36 257.50,116.19 259.15,113.85 260.79,111.30 262.44,108.56 264.08,105.66 265.73,102.61 267.37,99.37 269.02,95.94 270.66,92.30 272.31,88.47 273.95,84.45 275.59,80.24 277.24,75.83 278.88,71.18 280.53,66.30 282.17,61.20 283.82,55.91 285.46,50.39 287.11,44.61 288.75,38.56 290.40,32.20 292.16,24.91 294.05,16.58 295.95,7.97 297.71,-0.17 299.19,-7.07 300.26,-12.00" fill="none" stroke="#ff0000" stroke-width="1.3" stroke-linejoin="round"/></g><circle cx="43.70" cy="188.20" r="2.75" fill="#ff0000"/><circle cx="53.57" cy="187.70" r="2.75" fill="#ff0000"/><circle cx="63.44" cy="186.80" r="2.75" fill="#ff0000"/><circle cx="73.30" cy="185.90" r="2.75" fill="#ff0000"/><circle cx="83.17" cy="185.00" r="2.75" fill="#ff0000"/><circle cx="93.04" cy="185.00" r="2.75" fill="#ff0000"/><circle cx="102.91" cy="183.60" r="2.75" fill="#ff0000"/><circle cx="112.78" cy="182.00" r="2.75" fill="#ff0000"/><circle cx="122.64" cy="180.30" r="2.75" fill="#ff0000"/><circle cx="132.51" cy="178.60" r="2.75" fill="#ff0000"/><circle cx="142.38" cy="176.80" r="2.75" fill="#ff0000"/><circle cx="152.25" cy="174.80" r="2.75" fill="#ff0000"/><circle cx="162.11" cy="172.60" r="2.75" fill="#ff0000"/><circle cx="171.98" cy="170.20" r="2.75" fill="#ff0000"/><circle cx="181.85" cy="166.50" r="2.75" fill="#ff0000"/><circle cx="191.72" cy="163.40" r="2.75" fill="#ff0000"/><circle cx="201.59" cy="159.60" r="2.75" fill="#ff0000"/><circle cx="211.45" cy="155.20" r="2.75" fill="#ff0000"/><circle cx="221.32" cy="150.00" r="2.75" fill="#ff0000"/><circle cx="231.19" cy="143.60" r="2.75" fill="#ff0000"/><circle cx="241.06" cy="135.30" r="2.75" fill="#ff0000"/><circle cx="250.93" cy="124.40" r="2.75" fill="#ff0000"/><circle cx="260.79" cy="111.30" r="2.75" fill="#ff0000"/><circle cx="270.66" cy="92.30" r="2.75" fill="#ff0000"/><circle cx="280.53" cy="66.30" r="2.75" fill="#ff0000"/><circle cx="290.40" cy="32.20" r="2.75" fill="#ff0000"/>
<g mask="url(#m2)"><polyline points="43.70,188.30 44.77,188.25 46.26,188.19 48.02,188.11 49.91,188.01 51.81,187.91 53.57,187.80 55.21,187.67 56.86,187.53 58.50,187.38 60.15,187.21 61.79,187.05 63.44,186.90 65.08,186.75 66.73,186.60 68.37,186.45 70.01,186.30 71.66,186.15 73.30,186.00 74.95,185.85 76.59,185.70 78.24,185.56 79.88,185.41 81.53,185.26 83.17,185.10 84.82,184.94 86.46,184.79 88.11,184.63 89.75,184.47 91.39,184.29 93.04,184.10 94.68,183.89 96.33,183.67 97.97,183.44 99.62,183.20 101.26,182.95 102.91,182.70 104.55,182.45 106.20,182.19 107.84,181.92 109.49,181.65 111.13,181.37 112.78,181.10 114.42,180.82 116.06,180.54 117.71,180.26 119.35,179.97 121.00,179.68 122.64,179.40 124.29,179.12 125.93,178.84 127.58,178.56 129.22,178.27 130.87,177.99 132.51,177.70 134.16,177.41 135.80,177.11 137.44,176.82 139.09,176.52 140.73,176.21 142.38,175.90 144.02,175.58 145.67,175.26 147.31,174.93 148.96,174.59 150.60,174.25 152.25,173.90 153.89,173.55 155.54,173.19 157.18,172.82 158.83,172.46 160.47,172.08 162.11,171.70 163.76,171.32 165.40,170.94 167.05,170.56 168.69,170.17 170.34,169.75 171.98,169.30 173.63,168.81 175.27,168.29 176.92,167.74 178.56,167.19 180.21,166.64 181.85,166.10 183.49,165.58 185.14,165.08 186.78,164.57 188.43,164.07 190.07,163.54 191.72,163.00 193.36,162.44 195.01,161.87 196.65,161.28 198.30,160.68 199.94,160.05 201.59,159.40 203.23,158.72 204.88,158.01 206.52,157.29 208.16,156.54 209.81,155.78 211.45,155.00 213.10,154.21 214.74,153.41 216.39,152.60 218.03,151.76 219.68,150.90 221.32,150.00 222.97,149.08 224.61,148.14 226.26,147.17 227.90,146.16 229.54,145.11 231.19,144.00 232.83,142.83 234.48,141.60 236.12,140.33 237.77,139.02 239.41,137.67 241.06,136.30 242.70,134.91 244.35,133.51 245.99,132.07 247.64,130.58 249.28,129.03 250.93,127.40 252.57,125.73 254.21,124.03 255.86,122.26 257.50,120.40 259.15,118.39 260.79,116.20 262.44,113.85 264.08,111.37 265.73,108.75 267.37,105.97 269.02,103.03 270.66,99.90 272.31,96.66 273.95,93.33 275.59,89.83 277.24,86.07 278.88,81.99 280.53,77.50 282.17,72.64 283.82,67.50 285.46,62.03 287.11,56.18 288.75,49.92 290.40,43.20 292.16,35.29 294.05,26.08 295.95,16.46 297.71,7.31 299.19,-0.47 300.26,-6.00" fill="none" stroke="#1a30ff" stroke-width="1.3" stroke-linejoin="round"/></g><polygon points="43.70,185.66 40.65,190.94 46.75,190.94" fill="#1a30ff"/><polygon points="53.57,185.16 50.52,190.44 56.62,190.44" fill="#1a30ff"/><polygon points="63.44,184.26 60.39,189.54 66.49,189.54" fill="#1a30ff"/><polygon points="73.30,183.36 70.25,188.64 76.35,188.64" fill="#1a30ff"/><polygon points="83.17,182.46 80.12,187.74 86.22,187.74" fill="#1a30ff"/><polygon points="93.04,181.46 89.99,186.74 96.09,186.74" fill="#1a30ff"/><polygon points="102.91,180.06 99.86,185.34 105.96,185.34" fill="#1a30ff"/><polygon points="112.78,178.46 109.73,183.74 115.83,183.74" fill="#1a30ff"/><polygon points="122.64,176.76 119.59,182.04 125.69,182.04" fill="#1a30ff"/><polygon points="132.51,175.06 129.46,180.34 135.56,180.34" fill="#1a30ff"/><polygon points="142.38,173.26 139.33,178.54 145.43,178.54" fill="#1a30ff"/><polygon points="152.25,171.26 149.20,176.54 155.30,176.54" fill="#1a30ff"/><polygon points="162.11,169.06 159.06,174.34 165.16,174.34" fill="#1a30ff"/><polygon points="171.98,166.66 168.93,171.94 175.03,171.94" fill="#1a30ff"/><polygon points="181.85,163.46 178.80,168.74 184.90,168.74" fill="#1a30ff"/><polygon points="191.72,160.36 188.67,165.64 194.77,165.64" fill="#1a30ff"/><polygon points="201.59,156.76 198.54,162.04 204.64,162.04" fill="#1a30ff"/><polygon points="211.45,152.36 208.40,157.64 214.50,157.64" fill="#1a30ff"/><polygon points="221.32,147.36 218.27,152.64 224.37,152.64" fill="#1a30ff"/><polygon points="231.19,141.36 228.14,146.64 234.24,146.64" fill="#1a30ff"/><polygon points="241.06,133.66 238.01,138.94 244.11,138.94" fill="#1a30ff"/><polygon points="250.93,124.76 247.88,130.04 253.98,130.04" fill="#1a30ff"/><polygon points="260.79,113.56 257.74,118.84 263.84,118.84" fill="#1a30ff"/><polygon points="270.66,97.26 267.61,102.54 273.71,102.54" fill="#1a30ff"/><polygon points="280.53,74.86 277.48,80.14 283.58,80.14" fill="#1a30ff"/><polygon points="290.40,40.56 287.35,45.84 293.45,45.84" fill="#1a30ff"/>
</g>
<g clip-path="url(#cb)">
<g mask="url(#m3)"><polyline points="43.70,387.50 44.45,387.41 45.49,387.30 46.72,387.17 48.05,387.01 49.38,386.82 50.61,386.60 51.76,386.28 52.91,385.86 54.06,385.40 55.21,385.00 56.36,384.74 57.52,384.70 58.67,384.91 59.82,385.31 60.97,385.86 62.12,386.49 63.27,387.15 64.42,387.80 65.57,388.45 66.72,389.16 67.88,389.89 69.03,390.66 70.18,391.43 71.33,392.20 72.48,393.07 73.63,394.06 74.78,395.06 75.94,395.96 77.09,396.65 78.24,397.00 79.39,397.00 80.54,396.72 81.69,396.23 82.84,395.57 83.99,394.81 85.15,394.00 86.30,393.05 87.45,391.90 88.60,390.65 89.75,389.39 90.90,388.20 92.05,387.20 93.20,386.39 94.36,385.70 95.51,385.10 96.66,384.54 97.81,383.99 98.96,383.40 100.11,382.78 101.26,382.17 102.41,381.56 103.57,380.96 104.72,380.37 105.87,379.80 107.02,379.28 108.17,378.81 109.32,378.36 110.47,377.89 111.62,377.34 112.78,376.70 113.93,375.96 115.08,375.16 116.23,374.29 117.38,373.36 118.53,372.36 119.68,371.30 120.83,370.16 121.99,368.95 123.14,367.67 124.29,366.34 125.44,364.98 126.59,363.60 127.74,362.20 128.89,360.76 130.04,359.29 131.19,357.79 132.35,356.26 133.50,354.70 134.65,353.08 135.80,351.40 136.95,349.69 138.10,347.98 139.25,346.30 140.41,344.70 141.56,343.17 142.71,341.69 143.86,340.25 145.01,338.83 146.16,337.42 147.31,336.00 148.46,334.57 149.62,333.14 150.77,331.72 151.92,330.31 153.07,328.94 154.22,327.60 155.37,326.29 156.52,324.99 157.67,323.73 158.83,322.50 159.98,321.32 161.13,320.20 162.28,319.13 163.43,318.09 164.58,317.11 165.73,316.19 166.88,315.34 168.04,314.60 169.19,313.97 170.34,313.46 171.49,313.03 172.64,312.64 173.79,312.28 174.94,311.90 176.09,311.52 177.25,311.17 178.40,310.84 179.55,310.52 180.70,310.21 181.85,309.90 183.00,309.56 184.15,309.20 185.30,308.84 186.45,308.53 187.61,308.31 188.76,308.20 189.91,308.24 191.06,308.39 192.21,308.63 193.36,308.92 194.51,309.22 195.67,309.50 196.82,309.77 197.97,310.06 199.12,310.37 200.27,310.68 201.42,310.99 202.57,311.30 203.72,311.61 204.88,311.93 206.03,312.26 207.18,312.57 208.33,312.85 209.48,313.10 210.63,313.33 211.78,313.55 212.93,313.75 214.09,313.90 215.24,313.99 216.39,314.00 217.54,313.87 218.69,313.60 219.84,313.27 220.99,312.94 222.14,312.70 223.30,312.60 224.45,312.62 225.60,312.70 226.75,312.85 227.90,313.10 229.05,313.48 230.20,314.00 231.35,314.65 232.51,315.42 233.66,316.31 234.81,317.33 235.96,318.49 237.11,319.80 238.26,321.22 239.41,322.75 240.56,324.41 241.71,326.25 242.87,328.30 244.02,330.60 245.17,333.14 246.32,335.91 247.47,338.88 248.62,342.06 249.77,345.43 250.93,349.00 252.08,352.83 253.23,356.94 254.38,361.24 255.53,365.66 256.68,370.11 257.83,374.50 258.98,378.88 260.14,383.33 261.29,387.81 262.44,392.28 263.59,396.69 264.74,401.00 265.89,405.26 267.04,409.52 268.19,413.72 269.34,417.81 270.50,421.76 271.65,425.50 272.80,429.07 273.95,432.52 275.10,435.81 276.25,438.93 277.40,441.83 278.56,444.50 279.71,446.92 280.86,449.12 282.01,451.11 283.16,452.90 284.31,454.53 285.46,456.00 286.61,457.27 287.77,458.30 288.92,459.17 290.07,459.92 291.22,460.61 292.37,461.30 293.52,461.98 294.67,462.61 295.82,463.18 296.98,463.69 298.13,464.13 299.28,464.50 300.43,464.78 301.58,464.96 302.73,465.08 303.88,465.16 305.03,465.22 306.19,465.30 307.34,465.38 308.49,465.44 309.64,465.49 310.79,465.53 311.94,465.56 313.09,465.60 314.32,465.64 315.65,465.68 316.98,465.72 318.21,465.75 319.25,465.78 320.00,465.80" fill="none" stroke="#000000" stroke-width="1.3" stroke-linejoin="round"/></g><rect x="41.40" y="385.20" width="4.6" height="4.6" fill="#000000"/><rect x="48.31" y="384.30" width="4.6" height="4.6" fill="#000000"/><rect x="55.22" y="382.40" width="4.6" height="4.6" fill="#000000"/><rect x="62.12" y="385.50" width="4.6" height="4.6" fill="#000000"/><rect x="69.03" y="389.90" width="4.6" height="4.6" fill="#000000"/><rect x="75.94" y="394.70" width="4.6" height="4.6" fill="#000000"/><rect x="82.85" y="391.70" width="4.6" height="4.6" fill="#000000"/><rect x="89.75" y="384.90" width="4.6" height="4.6" fill="#000000"/><rect x="96.66" y="381.10" width="4.6" height="4.6" fill="#000000"/><rect x="103.57" y="377.50" width="4.6" height="4.6" fill="#000000"/><rect x="110.48" y="374.40" width="4.6" height="4.6" fill="#000000"/><rect x="117.38" y="369.00" width="4.6" height="4.6" fill="#000000"/><rect x="124.29" y="361.30" width="4.6" height="4.6" fill="#000000"/><rect x="131.20" y="352.40" width="4.6" height="4.6" fill="#000000"/><rect x="138.10" y="342.40" width="4.6" height="4.6" fill="#000000"/><rect x="145.01" y="333.70" width="4.6" height="4.6" fill="#000000"/><rect x="151.92" y="325.30" width="4.6" height="4.6" fill="#000000"/><rect x="158.83" y="317.90" width="4.6" height="4.6" fill="#000000"/><rect x="165.74" y="312.30" width="4.6" height="4.6" fill="#000000"/><rect x="172.64" y="309.60" width="4.6" height="4.6" fill="#000000"/><rect x="179.55" y="307.60" width="4.6" height="4.6" fill="#000000"/><rect x="186.46" y="305.90" width="4.6" height="4.6" fill="#000000"/><rect x="193.37" y="307.20" width="4.6" height="4.6" fill="#000000"/><rect x="200.27" y="309.00" width="4.6" height="4.6" fill="#000000"/><rect x="207.18" y="310.80" width="4.6" height="4.6" fill="#000000"/><rect x="214.09" y="311.70" width="4.6" height="4.6" fill="#000000"/><rect x="221.00" y="310.30" width="4.6" height="4.6" fill="#000000"/><rect x="227.90" y="311.70" width="4.6" height="4.6" fill="#000000"/><rect x="234.81" y="317.50" width="4.6" height="4.6" fill="#000000"/><rect x="241.72" y="328.30" width="4.6" height="4.6" fill="#000000"/><rect x="248.62" y="346.70" width="4.6" height="4.6" fill="#000000"/><rect x="255.53" y="372.20" width="4.6" height="4.6" fill="#000000"/><rect x="262.44" y="398.70" width="4.6" height="4.6" fill="#000000"/><rect x="269.35" y="423.20" width="4.6" height="4.6" fill="#000000"/><rect x="276.25" y="442.20" width="4.6" height="4.6" fill="#000000"/><rect x="283.16" y="453.70" width="4.6" height="4.6" fill="#000000"/><rect x="290.07" y="459.00" width="4.6" height="4.6" fill="#000000"/><rect x="296.98" y="462.20" width="4.6" height="4.6" fill="#000000"/><rect x="303.88" y="463.00" width="4.6" height="4.6" fill="#000000"/><rect x="310.79" y="463.30" width="4.6" height="4.6" fill="#000000"/><rect x="317.70" y="463.50" width="4.6" height="4.6" fill="#000000"/>
<g mask="url(#m4)"><polyline points="43.70,389.30 44.45,389.32 45.49,389.36 46.72,389.40 48.05,389.42 49.38,389.39 50.61,389.30 51.76,389.08 52.91,388.73 54.06,388.34 55.21,387.98 56.36,387.74 57.52,387.70 58.67,387.86 59.82,388.16 60.97,388.58 62.12,389.09 63.27,389.67 64.42,390.30 65.57,391.00 66.72,391.80 67.88,392.68 69.03,393.59 70.18,394.50 71.33,395.40 72.48,396.39 73.63,397.52 74.78,398.66 75.94,399.67 77.09,400.43 78.24,400.80 79.39,400.77 80.54,400.45 81.69,399.88 82.84,399.08 83.99,398.11 85.15,397.00 86.30,395.61 87.45,393.87 88.60,391.96 89.75,390.04 90.90,388.26 92.05,386.80 93.20,385.69 94.36,384.81 95.51,384.09 96.66,383.43 97.81,382.76 98.96,382.00 100.11,381.16 101.26,380.30 102.41,379.43 103.57,378.56 104.72,377.68 105.87,376.80 107.02,375.91 108.17,375.00 109.32,374.09 110.47,373.19 111.62,372.32 112.78,371.50 113.93,370.76 115.08,370.11 116.23,369.48 117.38,368.84 118.53,368.13 119.68,367.30 120.83,366.34 121.99,365.28 123.14,364.16 124.29,363.00 125.44,361.83 126.59,360.70 127.74,359.60 128.89,358.51 130.04,357.42 131.19,356.31 132.35,355.18 133.50,354.00 134.65,352.76 135.80,351.46 136.95,350.12 138.10,348.80 139.25,347.51 140.41,346.30 141.56,345.18 142.71,344.14 143.86,343.14 145.01,342.14 146.16,341.11 147.31,340.00 148.46,338.79 149.62,337.51 150.77,336.19 151.92,334.88 153.07,333.60 154.22,332.40 155.37,331.26 156.52,330.16 157.67,329.10 158.83,328.08 159.98,327.11 161.13,326.20 162.28,325.33 163.43,324.51 164.58,323.74 165.73,323.02 166.88,322.37 168.04,321.80 169.19,321.32 170.34,320.93 171.49,320.60 172.64,320.32 173.79,320.06 174.94,319.80 176.09,319.55 177.25,319.34 178.40,319.16 179.55,318.98 180.70,318.80 181.85,318.60 183.00,318.36 184.15,318.09 185.30,317.81 186.45,317.56 187.61,317.38 188.76,317.30 189.91,317.33 191.06,317.46 192.21,317.64 193.36,317.88 194.51,318.14 195.67,318.40 196.82,318.67 197.97,318.97 199.12,319.30 200.27,319.65 201.42,320.02 202.57,320.40 203.72,320.83 204.88,321.33 206.03,321.84 207.18,322.34 208.33,322.77 209.48,323.10 210.63,323.32 211.78,323.47 212.93,323.55 214.09,323.59 215.24,323.60 216.39,323.60 217.54,323.56 218.69,323.46 219.84,323.33 220.99,323.20 222.14,323.11 223.30,323.10 224.45,323.12 225.60,323.13 226.75,323.18 227.90,323.31 229.05,323.57 230.20,324.00 231.35,324.58 232.51,325.29 233.66,326.11 234.81,327.07 235.96,328.16 237.11,329.40 238.26,330.74 239.41,332.17 240.56,333.74 241.71,335.49 242.87,337.46 244.02,339.70 245.17,342.24 246.32,345.06 247.47,348.09 248.62,351.31 249.77,354.66 250.93,358.10 252.08,361.66 253.23,365.39 254.38,369.24 255.53,373.20 256.68,377.23 257.83,381.30 258.98,385.47 260.14,389.80 261.29,394.19 262.44,398.57 263.59,402.87 264.74,407.00 265.89,411.01 267.04,414.97 268.19,418.84 269.34,422.60 270.50,426.19 271.65,429.60 272.80,432.83 273.95,435.91 275.10,438.84 276.25,441.60 277.40,444.19 278.56,446.60 279.71,448.82 280.86,450.86 282.01,452.72 283.16,454.42 284.31,455.98 285.46,457.40 286.61,458.66 287.77,459.73 288.92,460.66 290.07,461.48 291.22,462.21 292.37,462.90 293.52,463.53 294.67,464.06 295.82,464.51 296.98,464.90 298.13,465.22 299.28,465.50 300.43,465.71 301.58,465.83 302.73,465.90 303.88,465.93 305.03,465.96 306.19,466.00 307.34,466.05 308.49,466.09 309.64,466.12 310.79,466.15 311.94,466.18 313.09,466.20 314.32,466.22 315.65,466.24 316.98,466.26 318.21,466.28 319.25,466.29 320.00,466.30" fill="none" stroke="#ff0000" stroke-width="1.3" stroke-linejoin="round"/></g><circle cx="43.70" cy="389.30" r="2.75" fill="#ff0000"/><circle cx="50.61" cy="389.30" r="2.75" fill="#ff0000"/><circle cx="57.52" cy="387.70" r="2.75" fill="#ff0000"/><circle cx="64.42" cy="390.30" r="2.75" fill="#ff0000"/><circle cx="71.33" cy="395.40" r="2.75" fill="#ff0000"/><circle cx="78.24" cy="400.80" r="2.75" fill="#ff0000"/><circle cx="85.15" cy="397.00" r="2.75" fill="#ff0000"/><circle cx="92.05" cy="386.80" r="2.75" fill="#ff0000"/><circle cx="98.96" cy="382.00" r="2.75" fill="#ff0000"/><circle cx="105.87" cy="376.80" r="2.75" fill="#ff0000"/><circle cx="112.78" cy="371.50" r="2.75" fill="#ff0000"/><circle cx="119.68" cy="367.30" r="2.75" fill="#ff0000"/><circle cx="126.59" cy="360.70" r="2.75" fill="#ff0000"/><circle cx="133.50" cy="354.00" r="2.75" fill="#ff0000"/><circle cx="140.41" cy="346.30" r="2.75" fill="#ff0000"/><circle cx="147.31" cy="340.00" r="2.75" fill="#ff0000"/><circle cx="154.22" cy="332.40" r="2.75" fill="#ff0000"/><circle cx="161.13" cy="326.20" r="2.75" fill="#ff0000"/><circle cx="168.04" cy="321.80" r="2.75" fill="#ff0000"/><circle cx="174.94" cy="319.80" r="2.75" fill="#ff0000"/><circle cx="181.85" cy="318.60" r="2.75" fill="#ff0000"/><circle cx="188.76" cy="317.30" r="2.75" fill="#ff0000"/><circle cx="195.67" cy="318.40" r="2.75" fill="#ff0000"/><circle cx="202.57" cy="320.40" r="2.75" fill="#ff0000"/><circle cx="209.48" cy="323.10" r="2.75" fill="#ff0000"/><circle cx="216.39" cy="323.60" r="2.75" fill="#ff0000"/><circle cx="223.30" cy="323.10" r="2.75" fill="#ff0000"/><circle cx="230.20" cy="324.00" r="2.75" fill="#ff0000"/><circle cx="237.11" cy="329.40" r="2.75" fill="#ff0000"/><circle cx="244.02" cy="339.70" r="2.75" fill="#ff0000"/><circle cx="250.93" cy="358.10" r="2.75" fill="#ff0000"/><circle cx="257.83" cy="381.30" r="2.75" fill="#ff0000"/><circle cx="264.74" cy="407.00" r="2.75" fill="#ff0000"/><circle cx="271.65" cy="429.60" r="2.75" fill="#ff0000"/><circle cx="278.56" cy="446.60" r="2.75" fill="#ff0000"/><circle cx="285.46" cy="457.40" r="2.75" fill="#ff0000"/><circle cx="292.37" cy="462.90" r="2.75" fill="#ff0000"/><circle cx="299.28" cy="465.50" r="2.75" fill="#ff0000"/><circle cx="306.19" cy="466.00" r="2.75" fill="#ff0000"/><circle cx="313.09" cy="466.20" r="2.75" fill="#ff0000"/><circle cx="320.00" cy="466.30" r="2.75" fill="#ff0000"/>
<g mask="url(#m5)"><polyline points="43.70,385.90 44.45,385.50 45.49,384.93 46.72,384.26 48.05,383.56 49.38,382.92 50.61,382.40 51.76,381.97 52.91,381.55 54.06,381.19 55.21,380.90 56.36,380.73 57.52,380.70 58.67,380.84 59.82,381.13 60.97,381.54 62.12,382.01 63.27,382.51 64.42,383.00 65.57,383.47 66.72,383.95 67.88,384.46 69.03,385.01 70.18,385.62 71.33,386.30 72.48,387.15 73.63,388.17 74.78,389.24 75.94,390.26 77.09,391.08 78.24,391.60 79.39,391.78 80.54,391.72 81.69,391.47 82.84,391.09 83.99,390.65 85.15,390.20 86.30,389.70 87.45,389.09 88.60,388.42 89.75,387.72 90.90,387.03 92.05,386.40 93.20,385.78 94.36,385.13 95.51,384.49 96.66,383.91 97.81,383.44 98.96,383.10 100.11,382.99 101.26,383.08 102.41,383.27 103.57,383.46 104.72,383.53 105.87,383.40 107.02,383.02 108.17,382.49 109.32,381.84 110.47,381.14 111.62,380.44 112.78,379.80 113.93,379.24 115.08,378.73 116.23,378.22 117.38,377.67 118.53,377.04 119.68,376.30 120.83,375.44 121.99,374.50 123.14,373.49 124.29,372.40 125.44,371.23 126.59,370.00 127.74,368.66 128.89,367.21 130.04,365.68 131.19,364.13 132.35,362.58 133.50,361.10 134.65,359.67 135.80,358.25 136.95,356.84 138.10,355.45 139.25,354.07 140.41,352.70 141.56,351.34 142.71,350.01 143.86,348.68 145.01,347.36 146.16,346.03 147.31,344.70 148.46,343.35 149.62,341.98 150.77,340.61 151.92,339.25 153.07,337.91 154.22,336.60 155.37,335.30 156.52,333.99 157.67,332.69 158.83,331.45 159.98,330.27 161.13,329.20 162.28,328.23 163.43,327.34 164.58,326.53 165.73,325.78 166.88,325.07 168.04,324.40 169.19,323.77 170.34,323.18 171.49,322.64 172.64,322.15 173.79,321.70 174.94,321.30 176.09,320.96 177.25,320.69 178.40,320.46 179.55,320.25 180.70,320.04 181.85,319.80 183.00,319.52 184.15,319.20 185.30,318.88 186.45,318.59 187.61,318.35 188.76,318.20 189.91,318.15 191.06,318.17 192.21,318.24 193.36,318.36 194.51,318.48 195.67,318.60 196.82,318.72 197.97,318.84 199.12,318.99 200.27,319.14 201.42,319.32 202.57,319.50 203.72,319.72 204.88,319.97 206.03,320.23 207.18,320.49 208.33,320.72 209.48,320.90 210.63,321.03 211.78,321.12 212.93,321.19 214.09,321.23 215.24,321.27 216.39,321.30 217.54,321.31 218.69,321.28 219.84,321.24 220.99,321.21 222.14,321.22 223.30,321.30 224.45,321.41 225.60,321.53 226.75,321.69 227.90,321.92 229.05,322.25 230.20,322.70 231.35,323.26 232.51,323.91 233.66,324.65 234.81,325.50 235.96,326.48 237.11,327.60 238.26,328.86 239.41,330.24 240.56,331.74 241.71,333.37 242.87,335.13 244.02,337.00 245.17,338.95 246.32,340.96 247.47,343.09 248.62,345.41 249.77,347.96 250.93,350.80 252.08,354.00 253.23,357.53 254.38,361.29 255.53,365.20 256.68,369.16 257.83,373.10 258.98,377.02 260.14,381.01 261.29,385.06 262.44,389.16 263.59,393.30 264.74,397.50 265.89,401.84 267.04,406.34 268.19,410.90 269.34,415.39 270.50,419.69 271.65,423.70 272.80,427.44 273.95,431.00 275.10,434.39 276.25,437.57 277.40,440.55 278.56,443.30 279.71,445.81 280.86,448.08 282.01,450.14 283.16,452.02 284.31,453.73 285.46,455.30 286.61,456.69 287.77,457.89 288.92,458.91 290.07,459.81 291.22,460.63 292.37,461.40 293.52,462.11 294.67,462.72 295.82,463.24 296.98,463.69 298.13,464.07 299.28,464.40 300.43,464.64 301.58,464.78 302.73,464.86 303.88,464.90 305.03,464.93 306.19,465.00 307.34,465.09 308.49,465.19 309.64,465.28 310.79,465.37 311.94,465.44 313.09,465.50 314.32,465.54 315.65,465.57 316.98,465.58 318.21,465.59 319.25,465.59 320.00,465.60" fill="none" stroke="#1a30ff" stroke-width="1.3" stroke-linejoin="round"/></g><polygon points="43.70,383.26 40.65,388.54 46.75,388.54" fill="#1a30ff"/><polygon points="50.61,379.76 47.56,385.04 53.66,385.04" fill="#1a30ff"/><polygon points="57.52,378.06 54.47,383.34 60.56,383.34" fill="#1a30ff"/><polygon points="64.42,380.36 61.37,385.64 67.47,385.64" fill="#1a30ff"/><polygon points="71.33,383.66 68.28,388.94 74.38,388.94" fill="#1a30ff"/><polygon points="78.24,388.96 75.19,394.24 81.29,394.24" fill="#1a30ff"/><polygon points="85.15,387.56 82.10,392.84 88.20,392.84" fill="#1a30ff"/><polygon points="92.05,383.76 89.00,389.04 95.10,389.04" fill="#1a30ff"/><polygon points="98.96,380.46 95.91,385.74 102.01,385.74" fill="#1a30ff"/><polygon points="105.87,380.76 102.82,386.04 108.92,386.04" fill="#1a30ff"/><polygon points="112.78,377.16 109.73,382.44 115.83,382.44" fill="#1a30ff"/><polygon points="119.68,373.66 116.63,378.94 122.73,378.94" fill="#1a30ff"/><polygon points="126.59,367.36 123.54,372.64 129.64,372.64" fill="#1a30ff"/><polygon points="133.50,358.46 130.45,363.74 136.55,363.74" fill="#1a30ff"/><polygon points="140.41,350.06 137.35,355.34 143.46,355.34" fill="#1a30ff"/><polygon points="147.31,342.06 144.26,347.34 150.36,347.34" fill="#1a30ff"/><polygon points="154.22,333.96 151.17,339.24 157.27,339.24" fill="#1a30ff"/><polygon points="161.13,326.56 158.08,331.84 164.18,331.84" fill="#1a30ff"/><polygon points="168.04,321.76 164.99,327.04 171.09,327.04" fill="#1a30ff"/><polygon points="174.94,318.66 171.89,323.94 177.99,323.94" fill="#1a30ff"/><polygon points="181.85,317.16 178.80,322.44 184.90,322.44" fill="#1a30ff"/><polygon points="188.76,315.56 185.71,320.84 191.81,320.84" fill="#1a30ff"/><polygon points="195.67,315.96 192.62,321.24 198.72,321.24" fill="#1a30ff"/><polygon points="202.57,316.86 199.52,322.14 205.62,322.14" fill="#1a30ff"/><polygon points="209.48,318.26 206.43,323.54 212.53,323.54" fill="#1a30ff"/><polygon points="216.39,318.66 213.34,323.94 219.44,323.94" fill="#1a30ff"/><polygon points="223.30,318.66 220.25,323.94 226.35,323.94" fill="#1a30ff"/><polygon points="230.20,320.06 227.15,325.34 233.25,325.34" fill="#1a30ff"/><polygon points="237.11,324.96 234.06,330.24 240.16,330.24" fill="#1a30ff"/><polygon points="244.02,334.36 240.97,339.64 247.07,339.64" fill="#1a30ff"/><polygon points="250.93,348.16 247.88,353.44 253.98,353.44" fill="#1a30ff"/><polygon points="257.83,370.46 254.78,375.74 260.88,375.74" fill="#1a30ff"/><polygon points="264.74,394.86 261.69,400.14 267.79,400.14" fill="#1a30ff"/><polygon points="271.65,421.06 268.60,426.34 274.70,426.34" fill="#1a30ff"/><polygon points="278.56,440.66 275.50,445.94 281.61,445.94" fill="#1a30ff"/><polygon points="285.46,452.66 282.41,457.94 288.51,457.94" fill="#1a30ff"/><polygon points="292.37,458.76 289.32,464.04 295.42,464.04" fill="#1a30ff"/><polygon points="299.28,461.76 296.23,467.04 302.33,467.04" fill="#1a30ff"/><polygon points="306.19,462.36 303.13,467.64 309.24,467.64" fill="#1a30ff"/><polygon points="313.09,462.86 310.04,468.14 316.14,468.14" fill="#1a30ff"/><polygon points="320.00,462.96 316.95,468.24 323.05,468.24" fill="#1a30ff"/>
</g>
<rect x="43.7" y="6.4" width="276.3" height="202.79999999999998" fill="none" stroke="#000" stroke-width="1.3"/>
<rect x="43.7" y="264.7" width="276.3" height="202.40000000000003" fill="none" stroke="#000" stroke-width="1.3"/>
<path d="M43.7,6.40h4.5 M43.7,36.22h2.3 M43.7,66.05h4.5 M43.7,95.87h2.3 M43.7,125.69h4.5 M43.7,155.52h2.3 M43.7,185.34h4.5 M83.17,209.2v-4.5 M132.51,209.2v-2.3 M181.85,209.2v-4.5 M231.19,209.2v-2.3 M280.53,209.2v-4.5 M43.7,467.10h4.5 M43.7,441.80h2.3 M43.7,416.50h4.5 M43.7,391.20h2.3 M43.7,365.90h4.5 M43.7,340.60h2.3 M43.7,315.30h4.5 M43.7,290.00h2.3 M43.7,264.70h4.5 M43.70,467.1v-4.5 M78.24,467.1v-2.3 M112.78,467.1v-4.5 M147.31,467.1v-2.3 M181.85,467.1v-4.5 M216.39,467.1v-2.3 M250.93,467.1v-4.5 M285.46,467.1v-2.3 M320.00,467.1v-4.5" stroke="#000" stroke-width="1" fill="none"/>
<g font-family="Liberation Sans, sans-serif" fill="#000"><text x="39.40" y="9.95" text-anchor="end" font-size="12" >5</text><text x="39.40" y="69.60" text-anchor="end" font-size="12" >0</text><text x="39.40" y="129.24" text-anchor="end" font-size="12" >-5</text><text x="39.40" y="188.89" text-anchor="end" font-size="12" >-10</text><text x="83.17" y="223.40" text-anchor="middle" font-size="12" >0.0</text><text x="181.85" y="223.40" text-anchor="middle" font-size="12" >0.5</text><text x="280.53" y="223.40" text-anchor="middle" font-size="12" >1.0</text><text x="39.40" y="470.65" text-anchor="end" font-size="12" >0</text><text x="39.40" y="420.05" text-anchor="end" font-size="12" >20</text><text x="39.40" y="369.45" text-anchor="end" font-size="12" >40</text><text x="39.40" y="318.85" text-anchor="end" font-size="12" >60</text><text x="39.40" y="268.25" text-anchor="end" font-size="12" >80</text><text x="43.70" y="481.90" text-anchor="middle" font-size="12" >400</text><text x="112.78" y="481.90" text-anchor="middle" font-size="12" >500</text><text x="181.85" y="481.90" text-anchor="middle" font-size="12" >600</text><text x="250.93" y="481.90" text-anchor="middle" font-size="12" >700</text><text x="320.00" y="481.90" text-anchor="middle" font-size="12" >800</text><text x="182.20" y="243.80" text-anchor="middle" font-size="12.9" >Voltage (V)</text><text x="180.50" y="501.80" text-anchor="middle" font-size="12.9" >Wavelength (nm)</text><text x="51.50" y="24.30" text-anchor="start" font-size="12.5" >(a)</text><text x="49.60" y="282.20" text-anchor="start" font-size="12.5" >(b)</text><text transform="translate(15.0,109.5) rotate(-90)" text-anchor="middle" font-size="12.7">Current Density (mA/cm<tspan font-size="9" dy="-6.5">2</tspan><tspan dy="6.5">)</tspan></text><text transform="translate(11.2,366.3) rotate(-90)" text-anchor="middle" font-size="13">EQE (%)</text></g>
</svg>
</body></html>
